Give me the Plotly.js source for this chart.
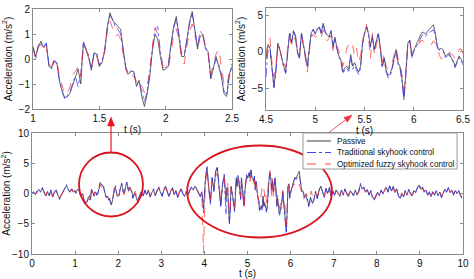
<!DOCTYPE html>
<html>
<head>
<meta charset="utf-8">
<script src="https://cdn.plot.ly/plotly-3.0.1.min.js"></script>
<style>html,body{margin:0;padding:0;background:#fff;}#chart{width:474px;height:279px;}</style>
</head>
<body>
<div id="chart"></div>
<script>
// ---- data (m/s^2) ----
const seriesNames = ["Passive", "Traditional skyhook control", "Optimized fuzzy skyhook control"];

// segment A: t = 0.00 .. 0.96, step 0.04
const passiveA = [0.0, 0.2, -0.1, 0.4, 0.7, 0.3, 0.9, 0.2, -0.4, 0.3, -0.3, 0.5, -0.6, 0.2, 0.6, -0.2, -0.9, -0.3, 0.4, 0.8, 1.3, 0.6, 0.2, 0.7, 0.3];
const skyA     = [0.0, 0.3, -0.1, 0.5, 0.6, 0.2, 1.0, 0.3, -0.5, 0.2, -0.4, 0.6, -0.5, 0.3, 0.5, -0.3, -1.0, -0.2, 0.5, 0.9, 1.5, 0.5, 0.3, 0.8, 0.4];
const fuzzyA   = [0.0, 0.1, -0.2, 0.3, 0.6, 0.4, 0.7, 0.1, -0.3, 0.4, -0.2, 0.4, -0.5, 0.1, 0.5, -0.1, -0.7, -0.2, 0.3, 0.7, 1.0, 0.5, 0.3, 0.6, 0.2];

// detail 1: t = 1.00 .. 2.50, step 0.02
const passive1 = [0.5, 0.1, 0.5, 0.7, 0.45, 0.6, -0.3, -0.35, -0.1, -0.15, -0.9, -1.3, -1.55, -1.5, -1.35, -1.0, -0.75, -0.4, -1.0, 0.65, 0.35, 0.05, -0.45, 0.25, 0.2, -0.3, -0.15, 0.3, 1.3, 1.85, 1.55, 1.4, 1.3, 1.2, 0.4, -0.4, -0.6, -0.5, -0.5, -1.1, -0.85, -1.5, -1.9, -1.4, -0.7, 0.35, 1.0, 0.8, 0.1, -0.45, -0.4, -0.3, 0.6, 1.3, 1.7, 1.0, 0.1, 0.1, 0.8, 1.5, 1.9, 1.1, 0.4, 0.9, 1.0, 0.4, 0.3, -0.8, -0.3, 0.1, -0.3, -0.7, -1.4, -1.5, -0.6, -0.3];
const sky1     = [0.45, 0.0, 0.55, 0.7, 0.5, 0.65, -0.2, -0.4, -0.05, -0.2, -0.85, -1.3, -1.6, -1.45, -1.3, -0.95, -0.7, -1.1, -0.6, 0.7, 0.4, 0.1, -0.4, 0.2, 0.25, -0.25, -0.1, 0.35, 1.2, 1.75, 1.6, 1.3, 1.2, 1.0, 0.3, -0.35, -0.55, -0.45, -0.55, -1.0, -0.9, -1.35, -1.7, -1.3, -0.6, 0.4, 1.2, 1.3, 0.3, -0.3, -0.35, -0.2, 0.5, 1.2, 1.6, 1.0, 0.2, 0.2, 0.7, 1.4, 1.85, 1.2, 0.5, 1.1, 1.0, 0.5, 0.2, -0.7, -0.3, 0.0, -0.2, -0.6, -1.3, -1.4, -0.7, -0.2];
const fuzzy1   = [0.4, 0.05, 0.45, 0.6, 0.4, 0.55, -0.2, -0.3, 0.0, -0.1, -0.7, -1.1, -1.45, -1.35, -1.1, -0.6, -0.5, -0.3, -0.7, 0.55, 0.4, 0.15, -0.3, 0.2, 0.1, -0.2, -0.05, 0.3, 1.1, 1.55, 1.2, 0.9, 1.0, 0.8, 0.2, -0.4, -0.75, -0.6, -0.7, -0.9, -0.8, -1.1, -1.35, -1.1, -0.4, 0.5, 1.25, 1.0, 0.2, -0.35, -0.3, -0.4, 0.3, 0.9, 1.2, 0.8, 0.0, -0.2, 0.5, 1.1, 1.4, 0.9, 0.6, 0.8, 0.9, 0.5, 0.3, -0.6, -0.2, 0.2, 0.4, -0.4, -1.0, -1.1, -0.5, -0.2];

// segment B: t = 2.54 .. 4.46, step 0.04
const passiveB = [0.3, -0.4, 0.5, -0.2, 0.6, -0.5, 0.2, 0.7, -0.3, 0.5, 1.0, 0.2, -0.4, 0.6, 1.2, 0.3, -0.5, 0.4, 0.9, -0.2, 0.5, -0.6, 0.3, 0.8, 0.0, -0.4, 0.3, -0.3, 0.5, 1.0, 0.6, 1.2, 0.8, 0.2, -0.5, 0.3, -2.5, 2.0, 4.3, 1.0, -1.5, 2.5, 0.5, 3.5, 4.3, 1.0, -2.0, 1.5, 3.0];
const skyB     = [0.4, -0.5, 0.6, -0.3, 0.5, -0.6, 0.3, 0.8, -0.4, 0.6, 1.1, 0.1, -0.5, 0.7, 1.3, 0.2, -0.6, 0.5, 1.0, -0.3, 0.6, -0.7, 0.2, 0.9, -0.1, -0.5, 0.4, -0.2, 0.6, 1.1, 0.5, 1.3, 0.7, 0.1, -0.6, 0.2, -3.2, 2.2, 4.5, 0.8, -1.8, 2.7, 0.3, 3.7, 4.5, 0.8, -2.3, 1.3, 3.2];
const fuzzyB   = [0.2, -0.3, 0.4, -0.1, 0.5, -0.4, 0.3, 0.5, -0.2, 0.4, 0.8, 0.3, -0.3, 0.5, 1.0, 0.2, -0.4, 0.5, 0.7, -0.1, 0.4, -0.5, 0.4, 0.6, 0.1, -0.3, 0.2, -0.2, 0.4, 0.8, 0.5, 1.0, 0.6, 0.3, -0.4, 0.2, -9.8, 1.5, 3.5, 1.5, -1.0, 2.0, 1.0, 2.8, 3.5, 1.5, -1.2, 1.8, 2.5];

// detail 2: t = 4.50 .. 6.50, step 0.02
const passive2 = [-1.0, 1.0, 0.5, -2.0, -4.8, -2.5, 1.2, 0.3, -1.0, -2.0, -2.8, 0.0, 2.5, 1.2, 2.8, 2.2, 0.0, -0.8, 2.5, 1.0, -0.6, -2.0, 0.5, 2.6, 3.0, 2.5, 3.0, 3.4, 2.6, 3.9, 2.8, 2.3, 2.1, 2.8, 0.7, 2.0, 0.5, -0.6, -1.1, -2.8, -2.2, -2.0, -2.4, -0.4, -2.0, -1.5, -2.2, -2.8, -2.0, 1.2, 2.5, 3.4, 2.5, 0.7, 2.1, 0.3, 1.5, 2.5, 0.7, -2.0, -0.8, -2.6, -3.3, -3.0, -2.2, -1.1, 0.3, -1.5, -2.0, -3.7, -6.3, -3.0, 1.2, 1.6, -0.6, 0.2, 0.8, 1.2, 1.8, 2.6, 2.7, 2.4, 2.8, 3.1, 3.3, 3.7, 2.5, 0.7, 0.3, 0.5, 0.2, -0.6, -0.4, -0.2, -0.8, -1.2, -2.0, -1.4, -0.6, -1.0, -1.5];
const sky2     = [-3.5, 0.5, 0.8, -2.3, -5.0, -2.8, 1.0, 0.4, -1.2, -2.2, -3.0, -0.2, 2.7, 1.3, 3.0, 2.0, -0.2, -1.0, 2.6, 0.9, -0.8, -2.2, 0.4, 2.7, 3.1, 2.4, 3.1, 3.5, 2.5, 3.8, 2.7, 2.2, 2.0, 2.9, 0.6, 1.9, 0.4, -0.8, -1.3, -3.0, -2.5, -2.3, -2.7, -0.7, -2.4, -1.9, -2.6, -3.1, -2.3, 1.0, 2.4, 3.5, 2.6, 0.6, 2.2, 0.1, 1.4, 2.6, 0.5, -2.2, -1.0, -2.8, -3.6, -3.3, -2.5, -1.3, 0.1, -1.7, -2.3, -4.0, -6.6, -3.3, 1.0, 1.5, -0.8, 0.0, 0.6, 1.0, 1.5, 2.2, 2.4, 2.1, 2.5, 2.7, 2.8, 3.0, 2.2, 0.5, 0.2, 0.3, 0.0, -0.8, -0.6, -0.4, -1.0, -1.4, -2.2, -1.6, -0.8, -1.3, -1.8];
const fuzzy2   = [-0.5, 1.5, 1.9, -1.5, -3.5, -2.0, 0.8, 0.2, -0.8, -1.5, -2.2, 0.5, 2.0, 1.0, 2.2, 1.5, -0.2, -0.5, 2.0, 0.8, -1.0, -2.8, 0.0, 2.0, 2.4, 2.0, 2.2, 2.6, 2.0, 3.0, 2.0, 1.5, 1.8, 2.2, 0.2, 1.5, 0.8, 0.0, -0.5, -2.0, -1.0, 0.5, 1.0, 0.3, 0.8, -0.5, 0.5, -1.5, -0.5, 1.5, 2.8, 3.8, 2.0, -1.0, 2.5, -0.5, 1.0, 2.0, 0.5, -1.5, -0.3, -2.0, -2.5, -2.0, -1.5, -0.5, 0.5, -0.8, -1.5, -3.0, -5.2, -2.5, 1.0, 1.4, 0.0, 0.5, 0.8, 1.0, 1.2, 1.6, 1.4, 1.2, 1.5, 1.3, 1.0, 1.5, 1.2, 0.8, -0.5, -1.0, -0.8, -0.5, -0.2, 0.0, -0.3, -0.5, -1.0, -0.5, 0.3, 0.4, -0.3];

// segment C: t = 6.54 .. 9.98, step 0.04
const passiveC = [-1.0, 0.3, -0.8, 0.5, 1.2, 0.2, -0.6, 0.8, 0.0, 1.0, -0.5, 0.4, -0.2, 0.6, 0.0, -0.4, 0.5, -0.2, 0.7, 0.1, -0.5, 0.4, 0.2, -0.3, 0.5, -0.2, 0.3, 1.5, 0.8, 1.0, 0.2, 0.6, -0.2, 0.4, -0.6, -1.0, -0.4, 0.2, -0.3, 0.5, 0.0, 0.6, 1.0, 0.3, 1.3, 0.4, 1.1, 0.2, 0.8, -0.3, -0.8, 0.0, -0.5, 0.4, -0.2, 0.6, 0.0, -0.4, 0.5, 0.2, 0.9, 1.4, 0.8, 1.0, 0.3, 0.6, -0.3, 0.2, -0.5, 0.3, -0.2, 0.4, -0.3, 0.2, -0.6, 0.0, 0.7, 0.3, 0.9, 0.2, 0.6, -0.2, 0.5, 0.0, 0.4, -0.3, -0.8];
const skyC     = [-1.2, 0.4, -0.9, 0.6, 1.3, 0.1, -0.7, 0.9, -0.1, 1.1, -0.6, 0.5, -0.3, 0.7, -0.1, -0.5, 0.6, -0.3, 0.8, 0.0, -0.6, 0.5, 0.1, -0.4, 0.6, -0.3, 0.4, 1.7, 0.7, 1.1, 0.1, 0.7, -0.3, 0.5, -0.7, -1.1, -0.5, 0.3, -0.4, 0.6, -0.1, 0.7, 1.1, 0.2, 1.4, 0.3, 1.2, 0.1, 0.9, -0.4, -0.9, -0.1, -0.6, 0.5, -0.3, 0.7, -0.1, -0.5, 0.6, 0.1, 1.0, 1.5, 0.7, 1.1, 0.2, 0.7, -0.4, 0.3, -0.6, 0.4, -0.3, 0.5, -0.4, 0.3, -0.7, -0.1, 0.8, 0.2, 1.0, 0.1, 0.7, -0.3, 0.6, -0.1, 0.5, -0.4, -0.9];
const fuzzyC   = [-0.6, 0.2, -0.5, 0.4, 0.9, 0.3, -0.4, 0.6, 0.1, 0.8, -0.3, 0.3, -0.1, 0.5, 0.1, -0.3, 0.4, -0.1, 0.5, 0.2, -0.3, 0.3, 0.3, -0.2, 0.4, -0.1, 0.2, 1.2, 0.6, 0.8, 0.3, 0.5, -0.1, 0.3, -0.4, -0.8, -0.3, 0.2, -0.2, 0.4, 0.1, 0.5, 0.8, 0.4, 1.0, 0.5, 0.9, 0.3, 0.6, -0.2, -0.6, 0.1, -0.4, 0.3, -0.1, 0.5, 0.1, -0.3, 0.4, 0.3, 0.7, 1.1, 0.7, 0.8, 0.4, 0.5, -0.2, 0.2, -0.4, 0.2, -0.1, 0.3, -0.2, 0.2, -0.4, 0.1, 0.5, 0.3, 0.7, 0.3, 0.5, -0.1, 0.4, 0.1, 0.3, -0.2, -0.6];

// sampling times of each segment (start, step)
const segStart = {A: 0.0, D1: 1.0, B: 2.54, D2: 4.5, C: 6.54};
const segStep  = {A: 0.04, D1: 0.02, B: 0.04, D2: 0.02, C: 0.04};

// ---- build ----
function times(key, n) { return Array.from({length: n}, (_, i) => +(segStart[key] + i * segStep[key]).toFixed(2)); }
const tA = times('A', passiveA.length), t1 = times('D1', passive1.length), tB = times('B', passiveB.length),
      t2 = times('D2', passive2.length), tC = times('C', passiveC.length);
const tAll = [].concat(tA, t1, tB, t2, tC);
const allPassive = [].concat(passiveA, passive1, passiveB, passive2, passiveC);
const allSky     = [].concat(skyA, sky1, skyB, sky2, skyC);
const allFuzzy   = [].concat(fuzzyA, fuzzy1, fuzzyB, fuzzy2, fuzzyC);

const styles = [
  {color: '#262626', width: 0.7, dash: 'solid'},
  {color: '#2a2aff', width: 0.7, dash: 'dashdot'},
  {color: '#ff2a2a', width: 0.7, dash: 'dash'}
];
function tr(x, y, i, xa, ya) {
  return {x: x, y: y, type: 'scatter', mode: 'lines', name: seriesNames[i], line: styles[i],
          xaxis: xa, yaxis: ya, showlegend: false, hoverinfo: 'skip'};
}
const data = [
  tr(t1, passive1, 0, 'x', 'y'), tr(t1, sky1, 1, 'x', 'y'), tr(t1, fuzzy1, 2, 'x', 'y'),
  tr(t2, passive2, 0, 'x2', 'y2'), tr(t2, sky2, 1, 'x2', 'y2'), tr(t2, fuzzy2, 2, 'x2', 'y2'),
  tr(tAll, allPassive, 0, 'x3', 'y3'), tr(tAll, allSky, 1, 'x3', 'y3'), tr(tAll, allFuzzy, 2, 'x3', 'y3')
];

const font = {family: 'Liberation Sans, Arial, sans-serif', size: 10, color: '#111'};
function ax(extra) {
  return Object.assign({showgrid: false, zeroline: false, showline: true, linecolor: '#8a8a8a', linewidth: 1,
    mirror: 'ticks', ticks: 'inside', ticklen: 3, tickcolor: '#8a8a8a', tickfont: {size: 10, color: '#111'},
    fixedrange: true}, extra);
}
const W = 474, H = 279;
const px = v => v / W, py = v => 1 - v / H;
const ytitle = {text: 'Acceleration (m/s<sup>2</sup>)', font: {size: 10}, standoff: 4};
const xtitle = {text: 't (s)', font: {size: 10}, standoff: 2};

// legend box drawn by hand (compact MATLAB-like legend)
const legBox = {x0: 303, x1: 457, y0: 133, y1: 169};
const legRows = [141, 152.5, 164];
const legShapes = [{type: 'rect', xref: 'paper', yref: 'paper', x0: px(legBox.x0), x1: px(legBox.x1), y0: py(legBox.y1), y1: py(legBox.y0),
                    fillcolor: '#fff', line: {color: '#9a9a9a', width: 1}, layer: 'above'}];
const legAnn = [];
seriesNames.forEach((n, i) => {
  legShapes.push({type: 'line', xref: 'paper', yref: 'paper', x0: px(307), x1: px(331), y0: py(legRows[i]), y1: py(legRows[i]),
                  line: {color: styles[i].color, width: 0.9, dash: styles[i].dash}, layer: 'above'});
  legAnn.push({xref: 'paper', yref: 'paper', x: px(335), y: py(legRows[i]), xanchor: 'left', yanchor: 'middle',
               text: n, showarrow: false, font: {size: 8.2, color: '#111'}});
});

// arrows drawn as shapes
function arrow(x0, y0, x1, y1, w, head, halfW, color) {
  const dx = x1 - x0, dy = y1 - y0, L = Math.hypot(dx, dy), ux = dx / L, uy = dy / L;
  const bx = x1 - ux * head, by = y1 - uy * head, nx = -uy * halfW, ny = ux * halfW;
  return [
    {type: 'line', xref: 'paper', yref: 'paper', x0: px(x0), y0: py(y0), x1: px(bx + ux), y1: py(by + uy), line: {color: color, width: w}},
    {type: 'path', xref: 'paper', yref: 'paper', fillcolor: color, line: {color: color, width: 0.5},
     path: `M ${px(x1)} ${py(y1)} L ${px(bx + nx)} ${py(by + ny)} L ${px(bx - nx)} ${py(by - ny)} Z`}
  ];
}

const layout = {
  width: W, height: H, margin: {l: 0, r: 0, t: 0, b: 0}, paper_bgcolor: '#fff', plot_bgcolor: '#fff',
  font: font, showlegend: false,
  xaxis:  ax({domain: [px(33), px(232)], range: [1, 2.5], tickvals: [1, 1.5, 2, 2.5], anchor: 'y', title: xtitle}),
  yaxis:  ax({domain: [py(109), py(9)], range: [-2, 2], tickvals: [-2, -1, 0, 1, 2], anchor: 'x', title: ytitle}),
  xaxis2: ax({domain: [px(266), px(463)], range: [4.5, 6.5], tickvals: [4.5, 5, 5.5, 6, 6.5], anchor: 'y2', title: xtitle}),
  yaxis2: ax({domain: [py(110), py(8)], range: [-8, 6], tickvals: [-5, 0, 5], anchor: 'x2', title: ytitle}),
  xaxis3: ax({domain: [px(32), px(463)], range: [0, 10], dtick: 1, tick0: 0, anchor: 'y3', title: xtitle}),
  yaxis3: ax({domain: [py(254), py(133)], range: [-10, 10], tickvals: [-10, -5, 0, 5, 10], anchor: 'x3', title: ytitle}),
  shapes: [
    {type: 'circle', xref: 'x3', yref: 'y3', x0: 1.09, x1: 2.575, y0: -3.8, y1: 6.78, line: {color: '#d8141e', width: 1.8}},
    {type: 'circle', xref: 'x3', yref: 'y3', x0: 3.6, x1: 6.96, y0: -7.27, y1: 7.93, line: {color: '#d8141e', width: 1.8}},
    ...arrow(111, 152, 111, 117, 1.2, 9, 3.5, '#e8141e'),
    ...arrow(303, 152, 352, 115, 0.8, 8, 3, '#f03040'),
    ...legShapes
  ],
  annotations: legAnn
};
Plotly.newPlot('chart', data, layout, {staticPlot: true, displayModeBar: false});
</script>
</body>
</html>
